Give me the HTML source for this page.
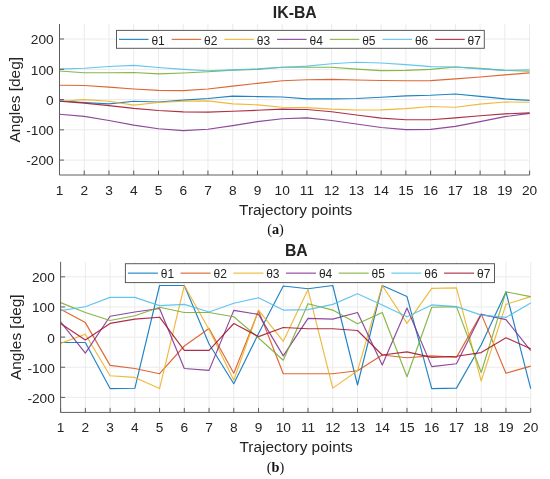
<!DOCTYPE html>
<html><head><meta charset="utf-8"><title>Joint angles</title>
<style>
html,body{margin:0;padding:0;background:#fff;}
svg{display:block;}
text{font-family:"Liberation Sans",Arial,Helvetica,sans-serif;fill:#242424;}
.cap{font-family:"Liberation Serif","Times New Roman",serif;fill:#111;}
</style></head><body>
<svg width="550" height="479" viewBox="0 0 550 479">
<rect width="550" height="479" fill="#fff"/>
<g>
<path d="M59.50 24V175M84.24 24V175M108.98 24V175M133.73 24V175M158.47 24V175M183.21 24V175M207.95 24V175M232.69 24V175M257.44 24V175M282.18 24V175M306.92 24V175M331.66 24V175M356.41 24V175M381.15 24V175M405.89 24V175M430.63 24V175M455.37 24V175M480.12 24V175M504.86 24V175M529.60 24V175M59.5 160.09H529.6M59.5 129.82H529.6M59.5 99.55H529.6M59.5 69.28H529.6M59.5 39.01H529.6" stroke="#ebebeb" stroke-width="1" fill="none"/>
<polyline points="59.50,100.83 84.24,102.48 108.98,103.90 133.73,101.30 158.47,102.01 183.21,100.12 207.95,98.46 232.69,96.10 257.44,96.57 282.18,97.04 306.92,98.94 331.66,98.94 356.41,98.46 381.15,97.28 405.89,95.86 430.63,95.27 455.37,93.97 480.12,96.34 504.86,98.94 529.60,100.35" stroke="#0072BD" stroke-width="1.15" fill="none" stroke-linejoin="round" stroke-opacity="0.88"/>
<polyline points="59.50,85.22 84.24,85.46 108.98,87.12 133.73,89.01 158.47,90.43 183.21,90.66 207.95,89.01 232.69,86.17 257.44,83.33 282.18,80.73 306.92,79.79 331.66,79.31 356.41,80.02 381.15,80.50 405.89,80.73 430.63,80.61 455.37,78.84 480.12,76.95 504.86,74.82 529.60,72.93" stroke="#D95319" stroke-width="1.15" fill="none" stroke-linejoin="round" stroke-opacity="0.88"/>
<polyline points="59.50,101.54 84.24,99.65 108.98,101.30 133.73,105.08 158.47,102.48 183.21,101.18 207.95,100.83 232.69,103.90 257.44,104.85 282.18,107.21 306.92,107.57 331.66,109.10 356.41,110.05 381.15,109.81 405.89,108.63 430.63,106.50 455.37,107.21 480.12,104.14 504.86,102.01 529.60,102.25" stroke="#EDB120" stroke-width="1.15" fill="none" stroke-linejoin="round" stroke-opacity="0.88"/>
<polyline points="59.50,114.30 84.24,116.43 108.98,120.45 133.73,125.18 158.47,128.72 183.21,130.61 207.95,129.20 232.69,125.65 257.44,121.63 282.18,118.79 306.92,117.85 331.66,120.45 356.41,124.00 381.15,127.54 405.89,129.67 430.63,129.43 455.37,126.36 480.12,121.63 504.86,116.67 529.60,113.36" stroke="#7E2F8E" stroke-width="1.15" fill="none" stroke-linejoin="round" stroke-opacity="0.88"/>
<polyline points="59.50,71.04 84.24,72.70 108.98,72.70 133.73,72.46 158.47,73.88 183.21,73.05 207.95,71.75 232.69,70.09 257.44,69.39 282.18,67.26 306.92,67.26 331.66,67.26 356.41,69.15 381.15,70.57 405.89,70.33 430.63,69.39 455.37,67.02 480.12,68.44 504.86,70.33 529.60,71.28" stroke="#77AC30" stroke-width="1.15" fill="none" stroke-linejoin="round" stroke-opacity="0.88"/>
<polyline points="59.50,69.15 84.24,68.20 108.98,66.55 133.73,65.37 158.47,67.49 183.21,69.39 207.95,70.80 232.69,69.86 257.44,68.91 282.18,67.26 306.92,66.19 331.66,63.71 356.41,62.29 381.15,63.00 405.89,64.66 430.63,66.67 455.37,67.02 480.12,68.91 504.86,70.33 529.60,69.86" stroke="#4DBEEE" stroke-width="1.15" fill="none" stroke-linejoin="round" stroke-opacity="0.88"/>
<polyline points="59.50,101.30 84.24,103.19 108.98,105.56 133.73,108.39 158.47,110.52 183.21,111.94 207.95,112.17 232.69,111.23 257.44,110.28 282.18,109.10 306.92,109.46 331.66,111.70 356.41,115.01 381.15,118.09 405.89,119.74 430.63,119.74 455.37,117.85 480.12,115.72 504.86,113.83 529.60,112.88" stroke="#A2142F" stroke-width="1.15" fill="none" stroke-linejoin="round" stroke-opacity="0.88"/>
<path d="M59.5 24V175H529.6M59.50 175v-4.5M84.24 175v-4.5M108.98 175v-4.5M133.73 175v-4.5M158.47 175v-4.5M183.21 175v-4.5M207.95 175v-4.5M232.69 175v-4.5M257.44 175v-4.5M282.18 175v-4.5M306.92 175v-4.5M331.66 175v-4.5M356.41 175v-4.5M381.15 175v-4.5M405.89 175v-4.5M430.63 175v-4.5M455.37 175v-4.5M480.12 175v-4.5M504.86 175v-4.5M529.60 175v-4.5M59.5 160.09h4.5M59.5 129.82h4.5M59.5 99.55h4.5M59.5 69.28h4.5M59.5 39.01h4.5" stroke="#5e5e5e" stroke-width="1" fill="none"/>
<text x="59.50" y="194.6" font-size="13.7" text-anchor="middle">1</text>
<text x="84.24" y="194.6" font-size="13.7" text-anchor="middle">2</text>
<text x="108.98" y="194.6" font-size="13.7" text-anchor="middle">3</text>
<text x="133.73" y="194.6" font-size="13.7" text-anchor="middle">4</text>
<text x="158.47" y="194.6" font-size="13.7" text-anchor="middle">5</text>
<text x="183.21" y="194.6" font-size="13.7" text-anchor="middle">6</text>
<text x="207.95" y="194.6" font-size="13.7" text-anchor="middle">7</text>
<text x="232.69" y="194.6" font-size="13.7" text-anchor="middle">8</text>
<text x="257.44" y="194.6" font-size="13.7" text-anchor="middle">9</text>
<text x="282.18" y="194.6" font-size="13.7" text-anchor="middle">10</text>
<text x="306.92" y="194.6" font-size="13.7" text-anchor="middle">11</text>
<text x="331.66" y="194.6" font-size="13.7" text-anchor="middle">12</text>
<text x="356.41" y="194.6" font-size="13.7" text-anchor="middle">13</text>
<text x="381.15" y="194.6" font-size="13.7" text-anchor="middle">14</text>
<text x="405.89" y="194.6" font-size="13.7" text-anchor="middle">15</text>
<text x="430.63" y="194.6" font-size="13.7" text-anchor="middle">16</text>
<text x="455.37" y="194.6" font-size="13.7" text-anchor="middle">17</text>
<text x="480.12" y="194.6" font-size="13.7" text-anchor="middle">18</text>
<text x="504.86" y="194.6" font-size="13.7" text-anchor="middle">19</text>
<text x="529.60" y="194.6" font-size="13.7" text-anchor="middle">20</text>
<text x="53.7" y="165.49" font-size="13.7" text-anchor="end">-200</text>
<text x="53.7" y="135.22" font-size="13.7" text-anchor="end">-100</text>
<text x="53.7" y="104.95" font-size="13.7" text-anchor="end">0</text>
<text x="53.7" y="74.68" font-size="13.7" text-anchor="end">100</text>
<text x="53.7" y="44.41" font-size="13.7" text-anchor="end">200</text>
<text x="295.7" y="214.9" font-size="15.4" text-anchor="middle">Trajectory points</text>
<text transform="translate(20.2,99.8) rotate(-90)" font-size="15.4" text-anchor="middle">Angles [deg]</text>
<text x="294.8" y="18" font-size="15.8" font-weight="bold" text-anchor="middle" fill="#0a0a0a">IK-BA</text>
<rect x="116.5" y="30.4" width="367.8" height="17.9" fill="#fff" stroke="#5a5a5a" stroke-width="1"/>
<path d="M119.00 39.35h29.5" stroke="#0072BD" stroke-width="1.15" stroke-opacity="0.88"/>
<text x="151.40" y="45" font-size="12">θ1</text>
<path d="M171.70 39.35h29.5" stroke="#D95319" stroke-width="1.15" stroke-opacity="0.88"/>
<text x="204.10" y="45" font-size="12">θ2</text>
<path d="M224.40 39.35h29.5" stroke="#EDB120" stroke-width="1.15" stroke-opacity="0.88"/>
<text x="256.80" y="45" font-size="12">θ3</text>
<path d="M277.10 39.35h29.5" stroke="#7E2F8E" stroke-width="1.15" stroke-opacity="0.88"/>
<text x="309.50" y="45" font-size="12">θ4</text>
<path d="M329.80 39.35h29.5" stroke="#77AC30" stroke-width="1.15" stroke-opacity="0.88"/>
<text x="362.20" y="45" font-size="12">θ5</text>
<path d="M382.50 39.35h29.5" stroke="#4DBEEE" stroke-width="1.15" stroke-opacity="0.88"/>
<text x="414.90" y="45" font-size="12">θ6</text>
<path d="M435.20 39.35h29.5" stroke="#A2142F" stroke-width="1.15" stroke-opacity="0.88"/>
<text x="467.60" y="45" font-size="12">θ7</text>
</g>
<text class="cap" x="275.5" y="233.8" font-size="14.3" text-anchor="middle">(<tspan font-weight="bold">a</tspan>)</text>
<g>
<path d="M60.60 261.8V412.4M85.34 261.8V412.4M110.08 261.8V412.4M134.83 261.8V412.4M159.57 261.8V412.4M184.31 261.8V412.4M209.05 261.8V412.4M233.79 261.8V412.4M258.54 261.8V412.4M283.28 261.8V412.4M308.02 261.8V412.4M332.76 261.8V412.4M357.51 261.8V412.4M382.25 261.8V412.4M406.99 261.8V412.4M431.73 261.8V412.4M456.47 261.8V412.4M481.22 261.8V412.4M505.96 261.8V412.4M530.70 261.8V412.4M60.6 397.40H530.7M60.6 367.25H530.7M60.6 337.10H530.7M60.6 306.95H530.7M60.6 276.80H530.7" stroke="#ebebeb" stroke-width="1" fill="none"/>
<polyline points="60.60,342.50 85.34,342.50 110.08,388.60 134.83,388.30 159.57,285.50 184.31,285.50 209.05,344.00 233.79,383.80 258.54,333.50 283.28,286.00 308.02,288.80 332.76,285.50 357.51,385.00 382.25,285.50 406.99,296.60 431.73,388.60 456.47,388.10 481.22,344.80 505.96,291.90 530.70,388.60" stroke="#0072BD" stroke-width="1.15" fill="none" stroke-linejoin="round" stroke-opacity="0.88"/>
<polyline points="60.60,309.20 85.34,322.60 110.08,365.40 134.83,368.50 159.57,373.70 184.31,346.00 209.05,328.50 233.79,373.20 258.54,310.80 283.28,373.70 308.02,373.70 332.76,373.70 357.51,370.80 382.25,355.00 406.99,357.80 431.73,355.90 456.47,357.40 481.22,313.90 505.96,373.20 530.70,366.10" stroke="#D95319" stroke-width="1.15" fill="none" stroke-linejoin="round" stroke-opacity="0.88"/>
<polyline points="60.60,343.40 85.34,334.20 110.08,375.80 134.83,377.40 159.57,388.60 184.31,285.50 209.05,329.50 233.79,380.30 258.54,310.10 283.28,341.30 308.02,289.60 332.76,388.10 357.51,370.80 382.25,285.50 406.99,323.40 431.73,288.40 456.47,287.90 481.22,381.00 505.96,304.40 530.70,296.60" stroke="#EDB120" stroke-width="1.15" fill="none" stroke-linejoin="round" stroke-opacity="0.88"/>
<polyline points="60.60,321.90 85.34,353.10 110.08,316.30 134.83,312.00 159.57,308.50 184.31,368.50 209.05,370.40 233.79,310.40 258.54,314.40 283.28,355.90 308.02,318.40 332.76,319.10 357.51,312.50 382.25,364.90 406.99,308.00 431.73,366.60 456.47,363.70 481.22,314.40 505.96,319.60 530.70,350.70" stroke="#7E2F8E" stroke-width="1.15" fill="none" stroke-linejoin="round" stroke-opacity="0.88"/>
<polyline points="60.60,302.60 85.34,312.50 110.08,320.50 134.83,315.80 159.57,307.30 184.31,312.50 209.05,312.50 233.79,316.70 258.54,338.00 283.28,360.20 308.02,303.70 332.76,310.10 357.51,323.80 382.25,312.50 406.99,376.70 431.73,307.30 456.47,306.60 481.22,372.50 505.96,291.90 530.70,296.60" stroke="#77AC30" stroke-width="1.15" fill="none" stroke-linejoin="round" stroke-opacity="0.88"/>
<polyline points="60.60,310.60 85.34,306.80 110.08,297.40 134.83,297.40 159.57,305.60 184.31,304.40 209.05,312.00 233.79,303.30 258.54,297.80 283.28,310.10 308.02,309.60 332.76,304.40 357.51,293.80 382.25,304.90 406.99,316.70 431.73,304.90 456.47,306.60 481.22,315.10 505.96,317.40 530.70,303.00" stroke="#4DBEEE" stroke-width="1.15" fill="none" stroke-linejoin="round" stroke-opacity="0.88"/>
<polyline points="60.60,323.40 85.34,340.10 110.08,323.40 134.83,319.10 159.57,317.20 184.31,350.30 209.05,350.30 233.79,323.50 258.54,336.60 283.28,327.50 308.02,328.70 332.76,328.70 357.51,330.50 382.25,355.00 406.99,351.90 431.73,357.40 456.47,356.20 481.22,352.60 505.96,337.80 530.70,348.80" stroke="#A2142F" stroke-width="1.15" fill="none" stroke-linejoin="round" stroke-opacity="0.88"/>
<path d="M60.6 261.8V412.4H530.7M60.60 412.4v-4.5M85.34 412.4v-4.5M110.08 412.4v-4.5M134.83 412.4v-4.5M159.57 412.4v-4.5M184.31 412.4v-4.5M209.05 412.4v-4.5M233.79 412.4v-4.5M258.54 412.4v-4.5M283.28 412.4v-4.5M308.02 412.4v-4.5M332.76 412.4v-4.5M357.51 412.4v-4.5M382.25 412.4v-4.5M406.99 412.4v-4.5M431.73 412.4v-4.5M456.47 412.4v-4.5M481.22 412.4v-4.5M505.96 412.4v-4.5M530.70 412.4v-4.5M60.6 397.40h4.5M60.6 367.25h4.5M60.6 337.10h4.5M60.6 306.95h4.5M60.6 276.80h4.5" stroke="#5e5e5e" stroke-width="1" fill="none"/>
<text x="60.60" y="432.0" font-size="13.7" text-anchor="middle">1</text>
<text x="85.34" y="432.0" font-size="13.7" text-anchor="middle">2</text>
<text x="110.08" y="432.0" font-size="13.7" text-anchor="middle">3</text>
<text x="134.83" y="432.0" font-size="13.7" text-anchor="middle">4</text>
<text x="159.57" y="432.0" font-size="13.7" text-anchor="middle">5</text>
<text x="184.31" y="432.0" font-size="13.7" text-anchor="middle">6</text>
<text x="209.05" y="432.0" font-size="13.7" text-anchor="middle">7</text>
<text x="233.79" y="432.0" font-size="13.7" text-anchor="middle">8</text>
<text x="258.54" y="432.0" font-size="13.7" text-anchor="middle">9</text>
<text x="283.28" y="432.0" font-size="13.7" text-anchor="middle">10</text>
<text x="308.02" y="432.0" font-size="13.7" text-anchor="middle">11</text>
<text x="332.76" y="432.0" font-size="13.7" text-anchor="middle">12</text>
<text x="357.51" y="432.0" font-size="13.7" text-anchor="middle">13</text>
<text x="382.25" y="432.0" font-size="13.7" text-anchor="middle">14</text>
<text x="406.99" y="432.0" font-size="13.7" text-anchor="middle">15</text>
<text x="431.73" y="432.0" font-size="13.7" text-anchor="middle">16</text>
<text x="456.47" y="432.0" font-size="13.7" text-anchor="middle">17</text>
<text x="481.22" y="432.0" font-size="13.7" text-anchor="middle">18</text>
<text x="505.96" y="432.0" font-size="13.7" text-anchor="middle">19</text>
<text x="530.70" y="432.0" font-size="13.7" text-anchor="middle">20</text>
<text x="54.800000000000004" y="402.80" font-size="13.7" text-anchor="end">-200</text>
<text x="54.800000000000004" y="372.65" font-size="13.7" text-anchor="end">-100</text>
<text x="54.800000000000004" y="342.50" font-size="13.7" text-anchor="end">0</text>
<text x="54.800000000000004" y="312.35" font-size="13.7" text-anchor="end">100</text>
<text x="54.800000000000004" y="282.20" font-size="13.7" text-anchor="end">200</text>
<text x="296.1" y="452.3" font-size="15.4" text-anchor="middle">Trajectory points</text>
<text transform="translate(21.2,337.2) rotate(-90)" font-size="15.4" text-anchor="middle">Angles [deg]</text>
<text x="296.3" y="255.5" font-size="15.8" font-weight="bold" text-anchor="middle" fill="#0a0a0a">BA</text>
<rect x="125.4" y="263.7" width="369.1" height="18.900000000000034" fill="#fff" stroke="#5a5a5a" stroke-width="1"/>
<path d="M127.90 273.15h30" stroke="#0072BD" stroke-width="1.15" stroke-opacity="0.88"/>
<text x="160.80" y="278" font-size="12">θ1</text>
<path d="M180.60 273.15h30" stroke="#D95319" stroke-width="1.15" stroke-opacity="0.88"/>
<text x="213.50" y="278" font-size="12">θ2</text>
<path d="M233.30 273.15h30" stroke="#EDB120" stroke-width="1.15" stroke-opacity="0.88"/>
<text x="266.20" y="278" font-size="12">θ3</text>
<path d="M286.00 273.15h30" stroke="#7E2F8E" stroke-width="1.15" stroke-opacity="0.88"/>
<text x="318.90" y="278" font-size="12">θ4</text>
<path d="M338.70 273.15h30" stroke="#77AC30" stroke-width="1.15" stroke-opacity="0.88"/>
<text x="371.60" y="278" font-size="12">θ5</text>
<path d="M391.40 273.15h30" stroke="#4DBEEE" stroke-width="1.15" stroke-opacity="0.88"/>
<text x="424.30" y="278" font-size="12">θ6</text>
<path d="M444.10 273.15h30" stroke="#A2142F" stroke-width="1.15" stroke-opacity="0.88"/>
<text x="477.00" y="278" font-size="12">θ7</text>
</g>
<text class="cap" x="275.5" y="471.5" font-size="14.3" text-anchor="middle">(<tspan font-weight="bold">b</tspan>)</text>
</svg>
</body></html>
